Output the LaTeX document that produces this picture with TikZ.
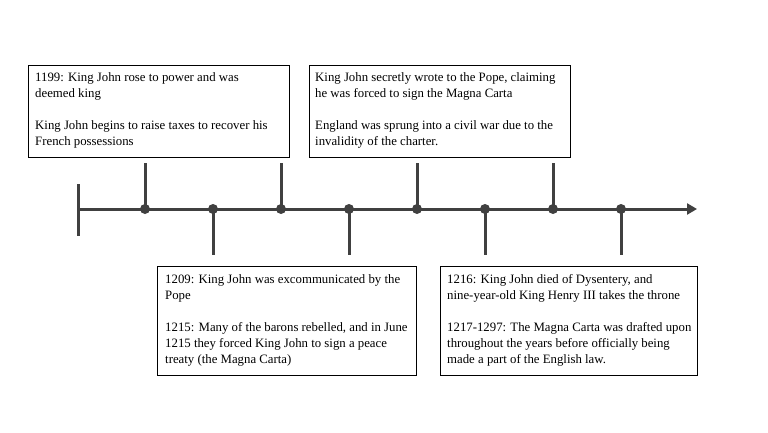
\documentclass[tikz,border=0pt]{standalone}
\usepackage{fontspec}
\setmainfont{Liberation Serif}
\usetikzlibrary{arrows.meta}
\begin{document}
\begin{tikzpicture}[x=1pt,y=-1pt,
  line/.style={draw=black!75,line width=3pt},
  dot/.style={circle,fill=black!75,inner sep=0,minimum size=10pt},
  box/.style={draw=black,line width=0.8pt,inner sep=0,anchor=north west},
  txt/.style={anchor=north west,align=left,inner sep=0,font=\fontsize{12.8}{16}\selectfont}]
\useasboundingbox (0,0) rectangle (768,433);
\coordinate (L) at (78,209);
\coordinate (R) at (697,209);
\draw[line,-{Triangle[length=10pt,width=11pt]}] (L) -- (R);
\coordinate (lt) at (78,184);
\coordinate (lb) at (78,236);
\draw[line] (lt) -- (lb);
\foreach \n/\x/\e in {d1/145/163,d2/213/255,d3/281/163,d4/349/255,d5/417/163,d6/485/255,d7/553/163,d8/621/255}{
  \coordinate (\n e) at (\x,\e);
  \node[dot] (\n) at (\x,209) {};
  \draw[line] (\n.center) -- (\n e);
}
\node[box,minimum width=261pt,minimum height=92pt] (b1) at (28,65) {};
\node[box,minimum width=261pt,minimum height=92pt] (b2) at (309,65) {};
\node[box,minimum width=259pt,minimum height=109pt] (b3) at (157,266) {};
\node[box,minimum width=257pt,minimum height=109pt] (b4) at (440,266) {};
\node[txt] (t1) at (35,72) {1199: King John rose to power and was\\deemed king\\[16pt]King John begins to raise taxes to recover his\\French possessions};
\node[txt] (t2) at (315,72) {King John secretly wrote to the Pope, claiming\\he was forced to sign the Magna Carta\\[16pt]England was sprung into a civil war due to the\\invalidity of the charter.};
\node[txt] (t3) at (165,274) {1209: King John was excommunicated by the\\Pope\\[16pt]1215: Many of the barons rebelled, and in June\\1215 they forced King John to sign a peace\\treaty (the Magna Carta)};
\node[txt] (t4) at (447,274) {1216: King John died of Dysentery, and\\nine-year-old King Henry III takes the throne\\[16pt]1217-1297: The Magna Carta was drafted upon\\throughout the years before officially being\\made a part of the English law.};
\end{tikzpicture}
\end{document}
